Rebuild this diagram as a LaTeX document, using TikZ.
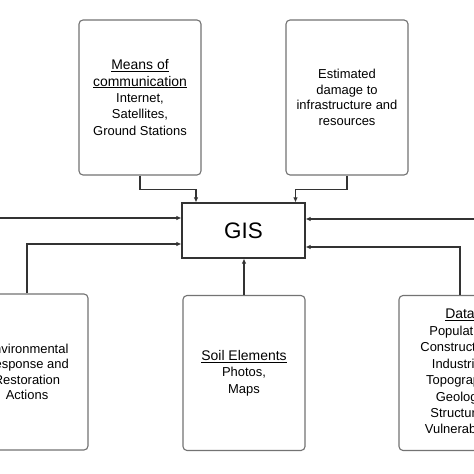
\documentclass[tikz,border=0pt]{standalone}
\usepackage{fontspec}
\setmainfont{Liberation Sans}
\usetikzlibrary{arrows.meta}

\newcommand{\headtxt}[1]{{\fontsize{14}{17}\selectfont\underline{#1}}}

\tikzset{
	infobox/.style={draw=black!55, line width=1.1bp, rounded corners=4bp, fill=white,
		minimum width=122bp, minimum height=155bp, inner sep=0pt, align=center,
		font=\fontsize{13}{16.5}\selectfont},
	gisbox/.style={draw=black!80, line width=1.1bp, fill=white,
		minimum width=123bp, minimum height=55bp, inner sep=0pt,
		font=\fontsize{22.5}{26}\selectfont},
	link/.style={draw=black!80, line width=1.1bp, -{Latex[length=5bp,width=4.5bp]}}
}

\begin{document}
\begin{tikzpicture}[x=1bp, y=-1bp]

\useasboundingbox (0,0) rectangle (474,474);
\clip (0,0) rectangle (474,474);
\fill[white] (0,0) rectangle (474,474);

\node[gisbox] (gis) at (243.5,230.5) {GIS};

\node[infobox] (comm) at (140,97.5)
	{\headtxt{Means of}\\\headtxt{communication}\\Internet,\\Satellites,\\Ground Stations};
\node[infobox, font=\fontsize{13}{15.5}\selectfont] (damage) at (347,97.5)
	{Estimated\\damage to\\infrastructure and\\resources};
\node[infobox, minimum height=156bp, font=\fontsize{13}{15.5}\selectfont] (envresp) at (27,372)
	{Environmental\\Response and\\Restoration\\Actions};
\node[infobox] (soil) at (244,373)
	{\headtxt{Soil Elements}\\Photos,\\Maps};
\node[infobox] (data) at (460,373)
	{\headtxt{Data}\\Population\\Constructions\\Industries\\Topography\\Geology\\Structures\\Vulnerability};

% inputs coming in from outside the frame
\coordinate (leftend) at (0,218);
\coordinate (rightend) at (474,219);

\draw[link] (comm.south) -- ++(0,14) -| ([xshift=-47.5bp]gis.north);
\draw[link] (damage.south) -- ++(0,14) -| ([xshift=52bp]gis.north);
\draw[link] (leftend) -- (leftend -| gis.west);
\draw[link] (rightend) -- (rightend -| gis.east);
\draw[link] (envresp.north) |- ([yshift=-13.5bp]gis.west);
\draw[link] (data.north) |- ([yshift=-16.5bp]gis.east);
\draw[link] (soil.north) -- (soil.north |- gis.south);

\end{tikzpicture}
\end{document}
